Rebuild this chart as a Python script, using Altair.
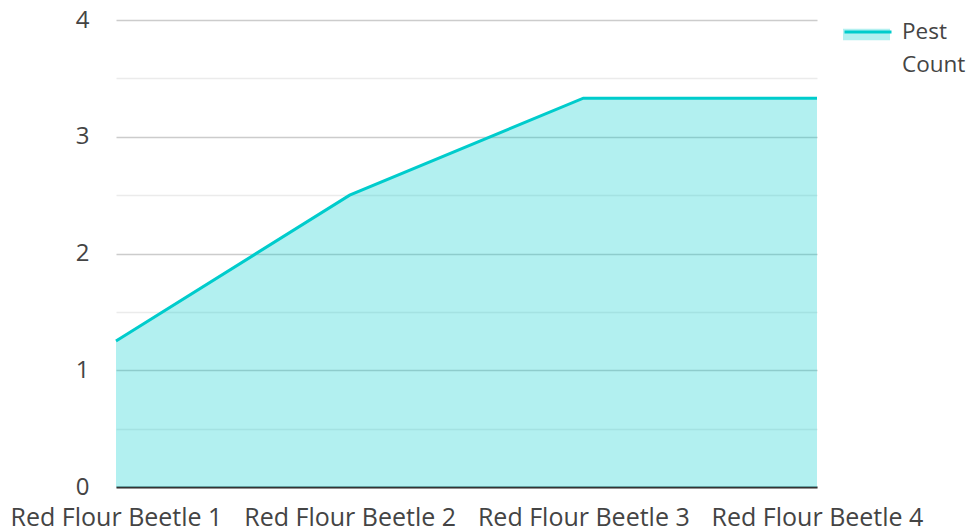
import altair as alt
import pandas as pd

categories = ["Red Flour Beetle 1", "Red Flour Beetle 2", "Red Flour Beetle 3", "Red Flour Beetle 4"]
pest_count = [1.25, 2.5, 3.33, 3.33]
series_name = ["Pest Count"] * 4
y_ticks = [0, 0.5, 1, 1.5, 2, 2.5, 3, 3.5, 4]

df = pd.DataFrame({"beetle": categories, "count": pest_count, "series": series_name, "series_fill": series_name})

FONT = "Open Sans"
TEXT = "#444444"
TEAL = "#00CCCC"

line_legend = alt.Legend(
    title=None,
    orient="none",
    legendX=727,
    legendY=-13,
    padding=0,
    symbolType="stroke",
    symbolSize=2209,
    symbolStrokeWidth=3,
    labelFont=FONT,
    labelFontSize=22.5,
    labelColor=TEXT,
    labelLimit=300,
    labelExpr="split(datum.label, ' ')",
    labelBaseline="middle",
    labelOffset=9,
    zindex=2,
)
fill_legend = alt.Legend(
    title=None,
    orient="none",
    legendX=727,
    legendY=-9,
    padding=0,
    symbolType="M-1,-0.245 L1,-0.245 L1,0.245 L-1,0.245 Z",
    symbolSize=2209,
    symbolStrokeWidth=0,
    symbolOpacity=0.3,
    labelExpr="''",
    labelFontSize=1,
    zindex=1,
)

x = alt.X(
    "beetle:N",
    sort=categories,
    scale=alt.Scale(type="point", padding=0),
    axis=alt.Axis(
        title=None,
        labelAngle=0,
        labelFont=FONT,
        labelFontSize=25,
        labelColor=TEXT,
        labelPadding=18,
        labelLimit=400,
        labelFlush=False,
        labelOverlap=False,
        ticks=False,
        grid=False,
        domain=True,
        domainColor="#333333",
        domainWidth=2,
    ),
)
y = alt.Y(
    "count:Q",
    scale=alt.Scale(domain=[0, 4], nice=False),
    axis=alt.Axis(
        title=None,
        values=y_ticks,
        labelExpr="datum.value % 1 === 0 ? format(datum.value, 'd') : ''",
        labelFont=FONT,
        labelFontSize=24,
        labelColor=TEXT,
        labelPadding=27,
        ticks=False,
        domain=False,
        grid=True,
        gridColor={"condition": {"test": "datum.value % 1 === 0", "value": "#cccccc"}, "value": "#ebebeb"},
        gridWidth=1.5,
    ),
)

area = alt.Chart(df).mark_area(opacity=0.3, interpolate="linear").encode(
    x=x, y=y, fill=alt.Fill("series_fill:N", scale=alt.Scale(range=[TEAL]), legend=fill_legend)
)
line = alt.Chart(df).mark_line(strokeWidth=3).encode(
    x=x, y=y, stroke=alt.Stroke("series:N", scale=alt.Scale(range=[TEAL]), legend=line_legend)
)

chart = (
    alt.layer(area, line)
    .properties(
        width=701,
        height=467,
        autosize=alt.AutoSizeParams(type="none"),
        padding={"left": 108, "top": 12, "right": 149, "bottom": 45},
    )
    .configure(
        view={"stroke": None},
        style={"guide-label": {"lineHeight": 33}},
    )
)

chart.save("out.html", embed_options={"renderer": "svg", "actions": False})
